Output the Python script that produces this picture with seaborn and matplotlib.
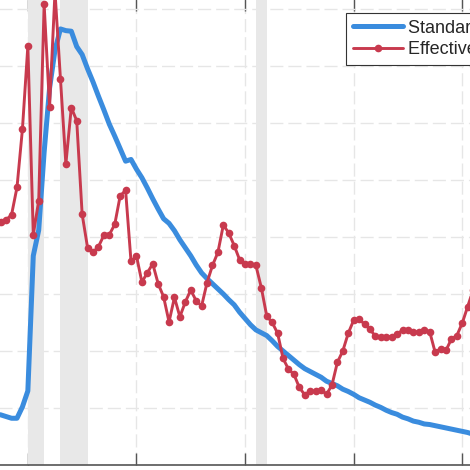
import pandas as pd
import numpy as np
import seaborn as sns
import matplotlib.pyplot as plt

# === Dados (trimestral, 1978Q3 em diante) ===
trimestres = [1978.5 + k / 4 for k in range(90)]

standard = [0.89, 0.88, 0.85, 0.82, 0.82, 1.02, 1.30, 3.67, 4.12, 5.49,
            6.61, 7.28, 7.65, 7.62, 7.61, 7.34, 7.20, 6.95, 6.72, 6.47,
            6.23, 5.98, 5.77, 5.55, 5.33, 5.36, 5.19, 5.04, 4.86, 4.67,
            4.49, 4.32, 4.24, 4.11, 3.95, 3.81, 3.67, 3.51, 3.37, 3.27,
            3.18, 3.09, 3.00, 2.90, 2.81, 2.68, 2.57, 2.46, 2.37, 2.32,
            2.27, 2.18, 2.08, 2.00, 1.92, 1.84, 1.76, 1.69, 1.64, 1.59,
            1.54, 1.47, 1.43, 1.39, 1.33, 1.29, 1.24, 1.18, 1.14, 1.10,
            1.05, 1.01, 0.96, 0.92, 0.89, 0.84, 0.81, 0.77, 0.75, 0.72,
            0.71, 0.69, 0.67, 0.65, 0.63, 0.61, 0.59, 0.57, 0.54, 0.52]

effective = [4.05, 4.27, 4.30, 4.39, 4.87, 5.89, 7.35, 4.04, 4.64, 8.08,
             6.28, 8.30, 6.78, 5.28, 6.27, 6.04, 4.40, 3.81, 3.73, 3.83,
             4.03, 4.04, 4.22, 4.72, 4.82, 3.57, 3.67, 3.21, 3.37, 3.53,
             3.18, 2.95, 2.51, 2.94, 2.60, 2.86, 3.07, 2.88, 2.79, 3.20,
             3.50, 3.73, 4.21, 4.07, 3.85, 3.60, 3.52, 3.53, 3.50, 3.11,
             2.61, 2.50, 2.31, 1.87, 1.68, 1.59, 1.36, 1.23, 1.30, 1.29,
             1.32, 1.24, 1.40, 1.80, 2.00, 2.31, 2.54, 2.56, 2.47, 2.38,
             2.26, 2.25, 2.25, 2.25, 2.29, 2.37, 2.36, 2.34, 2.33, 2.37,
             2.34, 1.98, 2.04, 2.01, 2.21, 2.27, 2.49, 2.78, 3.07, 3.30]

recessoes_ini = [1980.0, 1981.5, 1990.5]
recessoes_fim = [1980.75, 1982.75, 1991.0]

labels = ['Standard rate', 'Effective rate']

df = pd.DataFrame({'t': trimestres, 'Standard': standard, 'Effective': effective})

# === Estilo ===
sns.set_style('white')
plt.rcParams['font.family'] = ['Liberation Sans', 'DejaVu Sans']

cor_azul = '#3a8cde'
cor_verm = '#c83a4e'

# eixo maior que a figura (recorte)
fig = plt.figure(figsize=(4.7, 4.7), dpi=100)
x0 = 1978.75
ppx = 21.72
xl, xr = 1977.5, 2006.3
left_px = 0.7 + ppx * (xl - x0)
right_px = 0.7 + ppx * (xr - x0)
ax = fig.add_axes([left_px / 470, 5 / 470, (right_px - left_px) / 470, 466 / 470])

for a, b in zip(recessoes_ini, recessoes_fim):
    ax.axvspan(a, b, color='#e8e8e8', lw=0, zorder=1)

sns.lineplot(data=df, x='t', y='Standard', ax=ax, color=cor_azul, lw=3.6,
             label=labels[0], zorder=3)
sns.lineplot(data=df, x='t', y='Effective', ax=ax, color=cor_verm, lw=2.1,
             marker='o', markersize=5.5, markeredgewidth=0, label=labels[1], zorder=4)

ax.set_xlim(xl, xr)
ax.set_ylim(0, 8.175)
ax.set_xticks([1980, 1985, 1990, 1995, 2000, 2005])
ax.set_yticks(range(0, 9))
ax.grid(True, color='#e6e6e6', lw=1, linestyle=(0, (9.4, 3.6)), zorder=0)
ax.set_axisbelow(True)
ax.tick_params(axis='x', which='both', direction='in', length=8.6, width=1,
               color='#555555', top=True, bottom=True, labelbottom=False)
ax.tick_params(axis='y', left=False, labelleft=False)
for s in ['left', 'right', 'top']:
    ax.spines[s].set_visible(False)
ax.spines['bottom'].set_color('#555555')
ax.spines['bottom'].set_linewidth(1.2)
ax.set_xlabel('')
ax.set_ylabel('')

leg = ax.legend(loc='upper left', bbox_to_anchor=(345.7 / 470, 1 - 12.7 / 470),
                bbox_transform=fig.transFigure, borderaxespad=0, fontsize=13,
                handlelength=2.77, handletextpad=0.32, borderpad=0.38,
                labelspacing=0.26, fancybox=False, framealpha=1)
leg.get_frame().set_edgecolor('#333333')
leg.get_frame().set_linewidth(0.8)

plt.savefig('out.png', dpi=100)
